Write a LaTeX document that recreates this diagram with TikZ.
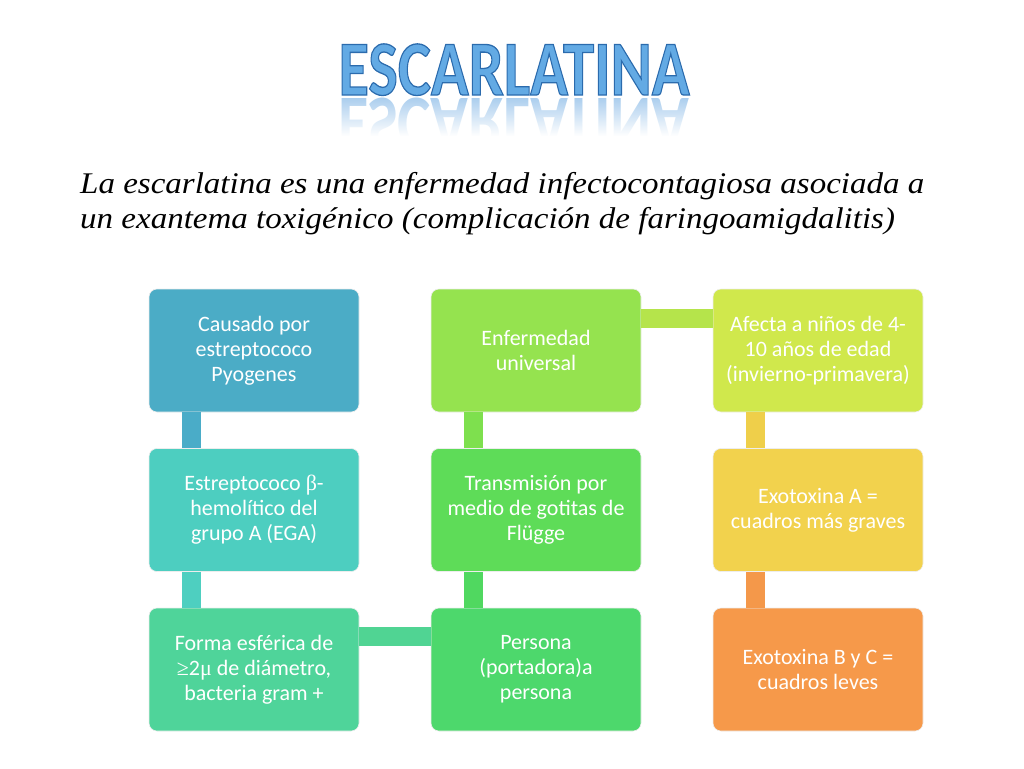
\documentclass[tikz,border=0pt]{standalone}
\usepackage{fontspec}
\usepackage{graphicx}
\setmainfont{Liberation Serif}
\newfontfamily\boxfont{Carlito}
\usetikzlibrary{fadings}

\definecolor{titleFill}{HTML}{63AAE4}
\definecolor{titleEcho}{HTML}{9FC7EC}
\definecolor{cCause}{HTML}{4BACC6}
\definecolor{cStrep}{HTML}{4DCEC0}
\definecolor{cShape}{HTML}{4FD49A}
\definecolor{cPerson}{HTML}{4DD86C}
\definecolor{cSpread}{HTML}{5EDC58}
\definecolor{cWorld}{HTML}{95E34F}
\definecolor{cAge}{HTML}{D0E84C}
\definecolor{cToxA}{HTML}{F2D24D}
\definecolor{cToxB}{HTML}{F6994A}
\definecolor{lCause}{HTML}{4AACC8}
\definecolor{lStrep}{HTML}{4ECFC0}
\definecolor{lShape}{HTML}{50D493}
\definecolor{lPerson}{HTML}{50D860}
\definecolor{lSpread}{HTML}{7EE04E}
\definecolor{lWorld}{HTML}{B5E44B}
\definecolor{lAge}{HTML}{EFCF4A}
\definecolor{lToxA}{HTML}{F4984A}

\newcommand{\titletext}{\scalebox{0.8}[1]{ESCARLATINA}}
\newcommand{\titleoutline}{\scalebox{0.8}[1]{\special{pdf:literal q 0.17 0.42 0.68 RG 1.3 w 2 Tr}ESCARLATINA\special{pdf:literal Q}}}

\begin{document}
\begin{tikzpicture}[
		x=1pt, y=-1pt,
		box/.style={rectangle, rounded corners=8pt, draw=black!7, line width=0.6pt,
			minimum width=210pt, minimum height=123pt, inner sep=2pt, align=center,
			text=white, font=\boxfont\fontsize{22}{25}\selectfont},
		link/.style={line width=19pt},
		titlestyle/.style={anchor=base, inner sep=0pt, font=\boxfont\bfseries\fontsize{78}{78}\selectfont},
		introstyle/.style={anchor=base west, inner sep=0pt, font=\fontsize{30}{35}\selectfont\itshape}
	]
  \useasboundingbox (0,0) rectangle (1024,768);

  % title and its mirror image
  \begin{scope}[shift={(514,98)}, yscale=-1]
    \node (titleecho) [titlestyle, transform shape, text=titleEcho] at (0,0) {\titletext};
  \end{scope}
  \fill [white, path fading=north] (330,92) rectangle (700,136);
  \fill [white] (330,136) rectangle (700,160);
  \node (title) [titlestyle, text=titleFill] at (514,95) {\titleoutline};

  \node (intro1) [introstyle] at (80,193)
    {\scalebox{1.1}[1]{La escarlatina es una enfermedad infectocontagiosa asociada a}};
  \node (intro2) [introstyle] at (80,228)
    {\scalebox{1.1}[1]{un exantema toxigénico (complicación de faringoamigdalitis)}};

  \node (cause) [box, fill=cCause] at (254,350.5) {Causado por\\estreptococo\\Pyogenes};
  \node (strep) [box, fill=cStrep] at (254,510) {Estreptococo {\rmfamily β}-\\hemolítico del\\grupo A (EGA)};
  \node (shape) [box, fill=cShape] at (254,669.5) {Forma esférica de\\{\rmfamily ≥}2{\rmfamily μ} de diámetro,\\bacteria gram +};
  \node (person) [box, fill=cPerson] at (536,669.5) {Persona\\(portadora)a\\persona};
  \node (spread) [box, fill=cSpread] at (536,510) {Transmisión por\\medio de gotitas de\\Flügge};
  \node (world) [box, fill=cWorld] at (536,350.5) {Enfermedad\\universal};
  \node (age) [box, fill=cAge] at (818,350.5) {Afecta a niños de 4-\\10 años de edad\\(invierno-primavera)};
  \node (toxA) [box, fill=cToxA] at (818,510) {Exotoxina A =\\cuadros más graves};
  \node (toxB) [box, fill=cToxB] at (818,669.5) {Exotoxina B y C =\\cuadros leves};

  \draw [link, lCause] ([xshift=-62.5pt]cause.south) -- ([xshift=-62.5pt]strep.north);
  \draw [link, lStrep] ([xshift=-62.5pt]strep.south) -- ([xshift=-62.5pt]shape.north);
  \draw [link, lShape] ([yshift=33.5pt]shape.east) -- ([yshift=33.5pt]person.west);
  \draw [link, lPerson] ([xshift=-62.5pt]person.north) -- ([xshift=-62.5pt]spread.south);
  \draw [link, lSpread] ([xshift=-62.5pt]spread.north) -- ([xshift=-62.5pt]world.south);
  \draw [link, lWorld] ([yshift=32pt]world.east) -- ([yshift=32pt]age.west);
  \draw [link, lAge] ([xshift=-62.5pt]age.south) -- ([xshift=-62.5pt]toxA.north);
  \draw [link, lToxA] ([xshift=-62.5pt]toxA.south) -- ([xshift=-62.5pt]toxB.north);
\end{tikzpicture}
\end{document}
